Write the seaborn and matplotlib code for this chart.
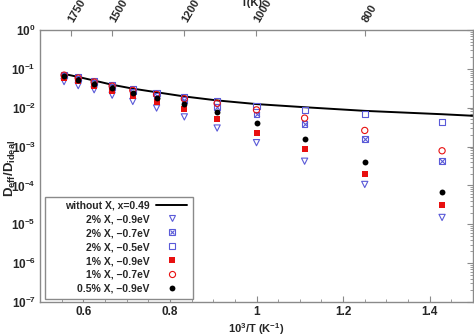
import numpy as np
import pandas as pd
import matplotlib
matplotlib.use("Agg")
import matplotlib.pyplot as plt
from matplotlib.lines import Line2D
from matplotlib.patches import Rectangle
from matplotlib.ticker import LogLocator, MultipleLocator, FixedLocator, NullFormatter
import seaborn as sns

# Temperatures (K) of the simulated points
temps = [1800, 1700, 1600, 1500, 1400, 1300, 1200, 1100, 1000, 900, 800, 700]

# D_eff / D_ideal for each solute concentration / binding energy
d_2pct_09 = [0.047, 0.037, 0.029, 0.021, 0.0145, 0.0098, 0.0058, 0.0030, 0.00126, 0.00042, 0.000106, 0.000015]
d_2pct_07 = [0.067, 0.056, 0.044, 0.034, 0.026, 0.020, 0.0158, 0.0104, 0.0067, 0.0038, 0.00157, 0.00042]
d_2pct_05 = [0.071, 0.060, 0.048, 0.038, 0.030, 0.024, 0.0188, 0.0150, 0.0112, 0.0089, 0.0068, 0.0042]
d_1pct_09 = [0.058, 0.048, 0.037, 0.0277, 0.0204, 0.0140, 0.0090, 0.0052, 0.0023, 0.00085, 0.00020, 0.000032]
d_1pct_07 = [0.069, 0.058, 0.046, 0.036, 0.028, 0.022, 0.0170, 0.0130, 0.0088, 0.0054, 0.0026, 0.00078]
d_05pct_09 = [0.064, 0.053, 0.041, 0.0325, 0.0246, 0.0180, 0.0124, 0.0077, 0.0040, 0.00158, 0.00041, 0.000066]

# Reference curve without solute
ref_temps = [1800, 1700, 1600, 1500, 1400, 1300, 1200, 1100, 1000, 900, 800, 700, 666.7]
ref_d = [0.074, 0.062, 0.050, 0.039, 0.031, 0.025, 0.0195, 0.0154, 0.0124, 0.0103, 0.0083, 0.0068, 0.0062]

top_temps = [1750, 1500, 1200, 1000, 800]

sns.set_theme(style="white")
plt.rcParams["font.family"] = ["Liberation Sans", "DejaVu Sans"]
plt.rcParams["font.weight"] = "bold"
plt.rcParams["mathtext.fontset"] = "custom"
plt.rcParams["mathtext.rm"] = "Liberation Sans:bold"
plt.rcParams["mathtext.bf"] = "Liberation Sans:bold"
plt.rcParams["mathtext.it"] = "Liberation Sans:bold"
plt.rcParams["mathtext.default"] = "rm"

blue = "#5a5ad8"
red = "#e81010"
black = "#000000"
spine_c = "#8a8a8a"

inv = lambda T: [1000.0 / t for t in T]
x = inv(temps)

fig = plt.figure(figsize=(4.74, 3.35), dpi=100)
ax = fig.add_axes([40 / 474, 1 - 302 / 335, 433 / 474, 272 / 335])

ref_df = pd.DataFrame({"x": inv(ref_temps), "d": ref_d})
sns.lineplot(data=ref_df, x="x", y="d", ax=ax, color="black", lw=1.4, sort=False)

ms = 16
lw = 0.8
sns.scatterplot(x=x, y=d_2pct_09, ax=ax, marker="v", s=ms + 4, color=blue,
                facecolor="none", edgecolor=blue, linewidth=lw, zorder=3)
sns.scatterplot(x=x, y=d_2pct_07, ax=ax, marker="s", s=ms, color=blue,
                facecolor="none", edgecolor=blue, linewidth=lw, zorder=3)
sns.scatterplot(x=x, y=d_2pct_07, ax=ax, marker="x", s=ms - 4, color=blue,
                linewidth=lw, zorder=3)
sns.scatterplot(x=x, y=d_2pct_05, ax=ax, marker="s", s=ms + 4, color=blue,
                facecolor="none", edgecolor=blue, linewidth=lw, zorder=3)
sns.scatterplot(x=x, y=d_1pct_09, ax=ax, marker="s", s=ms + 2, color=red,
                edgecolor=red, linewidth=0, zorder=3)
sns.scatterplot(x=x, y=d_1pct_07, ax=ax, marker="o", s=ms + 4, color=red,
                facecolor="none", edgecolor=red, linewidth=lw, zorder=3)
sns.scatterplot(x=x, y=d_05pct_09, ax=ax, marker="o", s=ms + 2, color=black,
                edgecolor=black, linewidth=0, zorder=3)

ax.set_yscale("log")
ax.set_ylim(1e-7, 1)
ax.set_xlim(0.5, 1.5)

ax.xaxis.set_major_locator(FixedLocator([0.6, 0.8, 1.0, 1.2, 1.4]))
ax.set_xticklabels(["0.6", "0.8", "1", "1.2", "1.4"])
ax.xaxis.set_minor_locator(MultipleLocator(0.05))
ax.yaxis.set_major_locator(LogLocator(base=10, numticks=20))
ax.yaxis.set_minor_locator(LogLocator(base=10, subs=np.arange(2, 10), numticks=100))
ax.yaxis.set_minor_formatter(NullFormatter())

ax.tick_params(axis="both", which="both", direction="in", color=spine_c,
               labelsize=8.5, pad=3)
ax.tick_params(axis="y", which="both", right=True)
ax.tick_params(axis="x", which="both", top=False)
ax.tick_params(which="major", length=4, width=0.8)
ax.tick_params(which="minor", length=2, width=0.6)
for lab in ax.get_xticklabels() + ax.get_yticklabels():
    lab.set_fontweight("bold")

for sp in ax.spines.values():
    sp.set_color(spine_c)
    sp.set_linewidth(1.0)

ax.set_xlabel(r"10$^{3}$/T (K$^{-1}$)", fontsize=8, fontweight="bold", labelpad=2)
ax.set_ylabel(r"D$_{eff}$/D$_{ideal}$", fontsize=9.5, fontweight="bold")
ax.yaxis.set_label_coords(-0.05, 0.49)

# Temperature axis on top
top = ax.twiny()
top.set_xlim(ax.get_xlim())
top.xaxis.set_major_locator(FixedLocator(inv(top_temps)))
top.set_xticklabels([str(t) for t in top_temps], rotation=60, ha="left",
                    va="center", rotation_mode="anchor", fontsize=8,
                    fontweight="bold")
top.tick_params(axis="x", direction="in", length=4, width=0.8, color=spine_c, pad=6)
for sp in top.spines.values():
    sp.set_visible(False)
fig.text(252 / 474, 1 - 3 / 335, "T(K)", ha="center", va="center",
         fontsize=8, fontweight="bold")

# Legend: frame box drawn separately, entries right-aligned inside it
box = Rectangle((0.0115, 0.011), 0.3415, 0.375, transform=ax.transAxes,
                facecolor="white", edgecolor=spine_c, lw=1.0, zorder=4)
ax.add_patch(box)

handles = [
    Line2D([], [], color="black", lw=1.4),
    Line2D([], [], ls="none", marker="v", ms=4.2, mfc="none", mec=blue, mew=lw),
    (Line2D([], [], ls="none", marker="s", ms=3.8, mfc="none", mec=blue, mew=lw),
     Line2D([], [], ls="none", marker="x", ms=3.2, mec=blue, mew=lw)),
    Line2D([], [], ls="none", marker="s", ms=4.2, mfc="none", mec=blue, mew=lw),
    Line2D([], [], ls="none", marker="s", ms=4.2, mfc=red, mec=red, mew=0),
    Line2D([], [], ls="none", marker="o", ms=4.4, mfc="none", mec=red, mew=lw),
    Line2D([], [], ls="none", marker="o", ms=4.2, mfc=black, mec=black, mew=0),
]
labels = [
    "without X, x=0.49",
    "2% X, \u22120.9eV",
    "2% X, \u22120.7eV",
    "2% X, \u22120.5eV",
    "1% X, \u22120.9eV",
    "1% X, \u22120.7eV",
    "0.5% X, \u22120.9eV",
]
leg = ax.legend(handles, labels, loc="lower right", bbox_to_anchor=(0.345, 0.022),
                borderaxespad=0, markerfirst=False, fontsize=7.5, frameon=False,
                handlelength=3.0, handletextpad=0.6, labelspacing=0.38,
                borderpad=0.2)
leg.set_zorder(5)
for t in leg.get_texts():
    t.set_fontweight("bold")

fig.savefig("out.png", dpi=100)
